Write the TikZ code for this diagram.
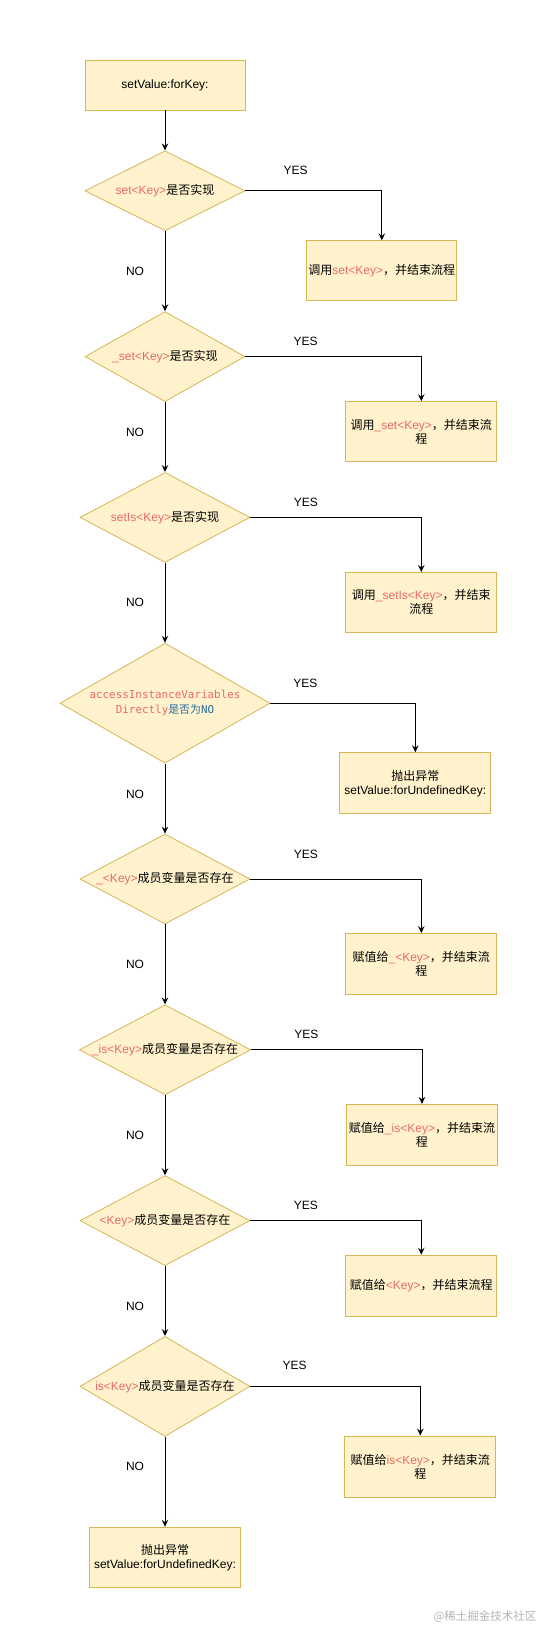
\documentclass[tikz,border=0pt]{standalone}
\usepackage{fontspec}
\setmainfont{Liberation Sans}
\setmonofont{DejaVu Sans Mono}
\newfontfamily\cjk{Noto Sans CJK SC}
\usetikzlibrary{arrows.meta,positioning,shapes.geometric}
\definecolor{boxfill}{HTML}{FFF2CC}
\definecolor{boxline}{HTML}{D6B656}
\definecolor{keyred}{HTML}{EA6B66}
\definecolor{noblue}{HTML}{2B6E9E}
\definecolor{markgray}{HTML}{B4B4B4}
\newcommand{\zh}[1]{{\cjk #1}}
\newcommand{\kw}[1]{\textcolor{keyred}{#1}}
\tikzset{
    %Define standard arrow tip
    >={Stealth[length=7pt,width=6.5pt,inset=2.5pt]},
    %Define style for boxes
    procbox/.style={
           rectangle,
           draw=boxline, line width=0.8pt,
           fill=boxfill,
           minimum width=151pt,
           minimum height=61pt,
           inner sep=1.5pt,
           align=center,
           font=\fontsize{12}{14}\selectfont},
    test/.style={
           diamond,
           shape aspect=2,
           draw=boxline, line width=0.8pt,
           fill=boxfill,
           minimum width=170pt,
           minimum height=90pt,
           inner sep=0pt,
           align=center,
           font=\fontsize{12}{14}\selectfont},
    % Define arrow style
    flow/.style={
           ->,
           line width=1pt},
    lab/.style={
           font=\fontsize{12}{14}\selectfont}
}
\begin{document}
\begin{tikzpicture}[x=1pt, y=1pt, node distance=40pt]
 \useasboundingbox (0,0) rectangle (556,-1641);
 %nodes
    \node[procbox, minimum width=160pt, minimum height=50pt] (start) at (165,-85) {setValue:forKey:};
    \node[test, minimum width=160pt, minimum height=80pt, below=40pt of start] (setk) {\kw{set<Key>}\zh{是否实现}};
    \node[test, minimum width=160pt, below=80pt of setk] (usetk) {\kw{\_set<Key>}\zh{是否实现}};
    \node[test, below=70pt of usetk] (setisk) {\kw{setIs<Key>}\zh{是否实现}};
    \node[test, minimum width=210pt, minimum height=120pt, below=80pt of setisk,
          font=\fontsize{10.9}{15}\ttfamily] (aivd) {\kw{accessInstanceVariables}\\\kw{Directly}\textcolor{noblue}{\zh{是否为}NO}};
    \node[test, below=70pt of aivd] (ivk) {\kw{\_<Key>}\zh{成员变量是否存在}};
    \node[test, below=80pt of ivk] (ivisk) {\kw{\_is<Key>}\zh{成员变量是否存在}};
    \node[test, below=80pt of ivisk] (vk) {\kw{<Key>}\zh{成员变量是否存在}};
    \node[test, minimum height=100pt, below=70pt of vk] (visk) {\kw{is<Key>}\zh{成员变量是否存在}};
    \node[procbox, minimum height=60pt, below=90pt of visk] (fail) {\zh{抛出异常}\\setValue:forUndefinedKey:};
 %right hand boxes
    \node[procbox, minimum width=150pt, minimum height=60pt, right=61pt of setk, yshift=-80pt] (callset) {\zh{调用}\kw{set<Key>}\zh{，并结束流程}};
    \node[procbox, minimum height=60pt, right=100pt of usetk, yshift=-75pt] (callusetk) {\zh{调用}\kw{\_set<Key>}\zh{，并结束流}\\\zh{程}};
    \node[procbox, minimum height=60pt, right=95pt of setisk, yshift=-85pt] (callsetis) {\zh{调用}\kw{\_setIs<Key>}\zh{，并结束}\\\zh{流程}};
    \node[procbox, right=69pt of aivd, yshift=-80pt] (raise) {\zh{抛出异常}\\setValue:forUndefinedKey:};
    \node[procbox, right=95pt of ivk, yshift=-85pt] (setivk) {\zh{赋值给}\kw{\_<Key>}\zh{，并结束流}\\\zh{程}};
    \node[procbox, right=95pt of ivisk, yshift=-85pt] (setivisk) {\zh{赋值给}\kw{\_is<Key>}\zh{，并结束流}\\\zh{程}};
    \node[procbox, right=95pt of vk, yshift=-65pt] (setvk) {\zh{赋值给}\kw{<Key>}\zh{，并结束流程}};
    \node[procbox, right=94pt of visk, yshift=-80pt] (setvisk) {\zh{赋值给}\kw{is<Key>}\zh{，并结束流}\\\zh{程}};
    \node[font=\fontsize{11.5}{14}\selectfont, text=markgray] (mark) at (485,-1617) {\zh{@稀土掘金技术社区}};
 %edges
    \draw[flow] (start) -- (setk);
    \draw[flow] (setk.east) -| node[lab, pos=.184, yshift=20pt] {YES} (callset.north);
    \draw[flow] (setk) -- node[lab, xshift=-30pt] {NO} (usetk);
    \draw[flow] (usetk.east) -| node[lab, pos=.171, yshift=15pt] {YES} (callusetk.north);
    \draw[flow] (usetk) -- node[lab, pos=.43, xshift=-30pt] {NO} (setisk);
    \draw[flow] (setisk.east) -| node[lab, pos=.162, yshift=15pt] {YES} (callsetis.north);
    \draw[flow] (setisk) -- node[lab, xshift=-30pt] {NO} (aivd);
    \draw[flow] (aivd.east) -| node[lab, pos=.121, yshift=20pt] {YES} (raise.north);
    \draw[flow] (aivd) -- node[lab, pos=.44, xshift=-30pt] {NO} (ivk);
    \draw[flow] (ivk.east) -| node[lab, pos=.162, yshift=25pt] {YES} (setivk.north);
    \draw[flow] (ivk) -- node[lab, xshift=-30pt] {NO} (ivisk);
    \draw[flow] (ivisk.east) -| node[lab, pos=.162, yshift=15pt] {YES} (setivisk.north);
    \draw[flow] (ivisk) -- node[lab, xshift=-30pt] {NO} (vk);
    \draw[flow] (vk.east) -| node[lab, pos=.162, yshift=15pt] {YES} (setvk.north);
    \draw[flow] (vk) -- node[lab, pos=.57, xshift=-30pt] {NO} (visk);
    \draw[flow] (visk.east) -| node[lab, pos=.13, yshift=21pt] {YES} (setvisk.north);
    \draw[flow] (visk) -- node[lab, pos=.33, xshift=-30pt] {NO} (fail);
\end{tikzpicture}
\end{document}
